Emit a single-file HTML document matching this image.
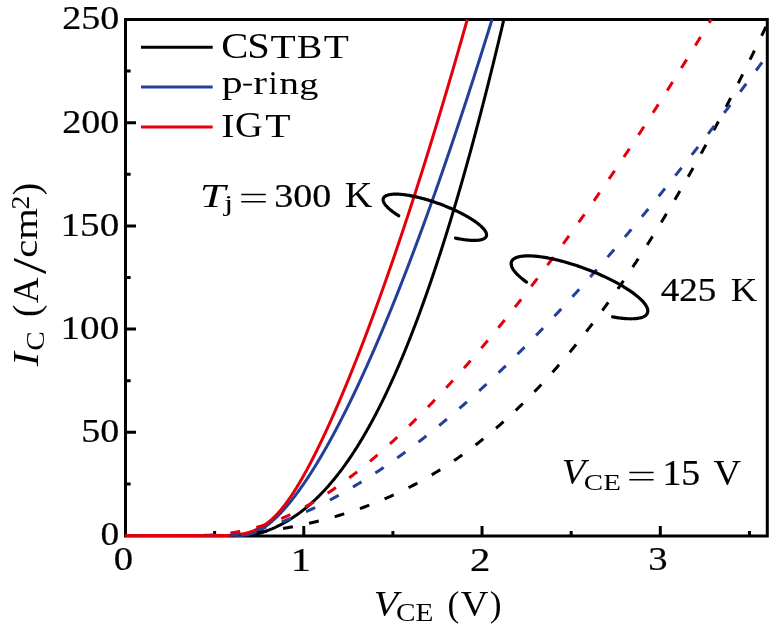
<!DOCTYPE html>
<html><head><meta charset="utf-8"><style>html,body{margin:0;padding:0;background:#fff;overflow:hidden}svg{display:block}</style></head>
<body><svg width="769" height="629" viewBox="0 0 769 629">
<rect x="0" y="0" width="769" height="629" fill="#fff"/>
<path d="M125.5,19.4 H767.3 V536 H125.5 Z" fill="none" stroke="#000" stroke-width="3" stroke-linejoin="miter"/><path d="M125.5,535.50 H136 M125.5,432.30 H136 M125.5,329.10 H136 M125.5,225.90 H136 M125.5,122.70 H136 M125.5,19.50 H136 M125.5,483.90 H130.6 M125.5,380.70 H130.6 M125.5,277.50 H130.6 M125.5,174.30 H130.6 M125.5,71.10 H130.6 M125.50,536 V526 M303.77,536 V526 M482.04,536 V526 M660.31,536 V526 M214.63,536 V531 M392.91,536 V531 M571.17,536 V531 M749.45,536 V531" stroke="#000" stroke-width="3" fill="none"/>
<path d="M125.50,535.50 L245.83,535.50 L247.84,535.43 L248.72,535.36 L249.42,535.29 L250.02,535.22 L250.56,535.15 L251.06,535.08 L251.52,535.01 L251.96,534.94 L252.38,534.87 L252.78,534.80 L253.16,534.73 L253.53,534.66 L253.89,534.59 L254.24,534.52 L254.57,534.45 L254.90,534.38 L255.23,534.31 L255.54,534.24 L255.85,534.17 L256.15,534.10 L256.45,534.03 L256.74,533.96 L257.02,533.89 L257.30,533.82 L257.58,533.75 L257.85,533.68 L258.12,533.61 L258.39,533.54 L258.65,533.47 L258.91,533.40 L259.16,533.33 L259.42,533.26 L259.67,533.19 L259.91,533.12 L260.16,533.05 L260.40,532.98 L260.64,532.91 L260.87,532.84 L261.11,532.77 L261.34,532.70 L261.57,532.63 L261.79,532.56 L262.02,532.49 L262.24,532.42 L262.47,532.35 L262.68,532.28 L262.90,532.21 L263.12,532.14 L263.33,532.07 L263.55,532.00 L263.76,531.93 L263.97,531.86 L264.18,531.79 L264.38,531.72 L264.59,531.65 L264.79,531.58 L264.99,531.51 L265.20,531.44 L265.40,531.37 L265.69,531.27 L269.25,529.93 L272.49,528.60 L275.48,527.27 L278.27,525.93 L280.90,524.60 L283.39,523.26 L285.76,521.93 L288.02,520.59 L290.19,519.26 L292.27,517.93 L294.28,516.59 L296.22,515.26 L298.09,513.92 L299.91,512.59 L301.67,511.25 L303.39,509.92 L305.05,508.58 L306.68,507.25 L308.26,505.92 L309.81,504.58 L311.32,503.25 L312.79,501.91 L314.24,500.58 L315.65,499.24 L317.04,497.91 L318.39,496.58 L319.73,495.24 L321.03,493.91 L322.32,492.57 L323.58,491.24 L324.82,489.90 L326.04,488.57 L327.25,487.23 L328.43,485.90 L329.59,484.57 L330.74,483.23 L331.87,481.90 L332.98,480.56 L334.08,479.23 L335.17,477.89 L336.24,476.56 L337.29,475.23 L338.33,473.89 L339.36,472.56 L340.38,471.22 L341.38,469.89 L342.38,468.55 L343.36,467.22 L344.33,465.89 L345.29,464.55 L346.24,463.22 L347.17,461.88 L348.10,460.55 L349.02,459.21 L349.93,457.88 L350.83,456.54 L351.72,455.21 L352.61,453.88 L353.48,452.54 L354.35,451.21 L355.21,449.87 L356.06,448.54 L356.90,447.20 L357.74,445.87 L358.57,444.54 L359.39,443.20 L360.20,441.87 L361.01,440.53 L361.81,439.20 L362.61,437.86 L363.40,436.53 L364.18,435.20 L364.95,433.86 L365.72,432.53 L366.49,431.19 L367.25,429.86 L368.00,428.52 L368.75,427.19 L369.49,425.85 L370.23,424.52 L370.96,423.19 L371.69,421.85 L372.41,420.52 L373.13,419.18 L373.84,417.85 L374.55,416.51 L375.25,415.18 L375.95,413.85 L376.64,412.51 L377.33,411.18 L378.02,409.84 L378.70,408.51 L379.38,407.17 L380.05,405.84 L380.72,404.50 L381.38,403.17 L382.04,401.84 L382.70,400.50 L383.35,399.17 L384.00,397.83 L384.65,396.50 L385.29,395.16 L385.93,393.83 L386.57,392.50 L387.20,391.16 L387.83,389.83 L388.45,388.49 L389.08,387.16 L389.70,385.82 L390.31,384.49 L390.93,383.16 L391.53,381.82 L392.14,380.49 L392.74,379.15 L393.35,377.82 L393.94,376.48 L394.54,375.15 L395.13,373.81 L395.72,372.48 L396.31,371.15 L396.89,369.81 L397.47,368.48 L398.05,367.14 L398.63,365.81 L399.20,364.47 L399.77,363.14 L400.34,361.81 L400.90,360.47 L401.47,359.14 L402.03,357.80 L402.59,356.47 L403.14,355.13 L403.70,353.80 L404.25,352.46 L404.80,351.13 L405.34,349.80 L405.89,348.46 L406.43,347.13 L406.97,345.79 L407.51,344.46 L408.04,343.12 L408.58,341.79 L409.11,340.46 L409.64,339.12 L410.17,337.79 L410.69,336.45 L411.22,335.12 L411.74,333.78 L412.26,332.45 L412.77,331.12 L413.29,329.78 L413.80,328.45 L414.32,327.11 L414.83,325.78 L415.34,324.44 L415.84,323.11 L416.35,321.77 L416.85,320.44 L417.35,319.11 L417.85,317.77 L418.35,316.44 L418.85,315.10 L419.34,313.77 L419.83,312.43 L420.32,311.10 L420.81,309.77 L421.30,308.43 L421.79,307.10 L422.27,305.76 L422.76,304.43 L423.24,303.09 L423.72,301.76 L424.20,300.42 L424.67,299.09 L425.15,297.76 L425.62,296.42 L426.10,295.09 L426.57,293.75 L427.04,292.42 L427.50,291.08 L427.97,289.75 L428.44,288.42 L428.90,287.08 L429.36,285.75 L429.83,284.41 L430.28,283.08 L430.74,281.74 L431.20,280.41 L431.66,279.08 L432.11,277.74 L432.56,276.41 L433.02,275.07 L433.47,273.74 L433.92,272.40 L434.37,271.07 L434.81,269.73 L435.26,268.40 L435.70,267.07 L436.15,265.73 L436.59,264.40 L437.03,263.06 L437.47,261.73 L437.91,260.39 L438.34,259.06 L438.78,257.73 L439.22,256.39 L439.65,255.06 L440.08,253.72 L440.51,252.39 L440.94,251.05 L441.37,249.72 L441.80,248.38 L442.23,247.05 L442.66,245.72 L443.08,244.38 L443.51,243.05 L443.93,241.71 L444.35,240.38 L444.77,239.04 L445.19,237.71 L445.61,236.38 L446.03,235.04 L446.44,233.71 L446.86,232.37 L447.28,231.04 L447.69,229.70 L448.10,228.37 L448.51,227.04 L448.93,225.70 L449.34,224.37 L449.74,223.03 L450.15,221.70 L450.56,220.36 L450.97,219.03 L451.37,217.69 L451.78,216.36 L452.18,215.03 L452.58,213.69 L452.98,212.36 L453.38,211.02 L453.78,209.69 L454.18,208.35 L454.58,207.02 L454.98,205.69 L455.37,204.35 L455.77,203.02 L456.16,201.68 L456.56,200.35 L456.95,199.01 L457.34,197.68 L457.73,196.34 L458.13,195.01 L458.51,193.68 L458.90,192.34 L459.29,191.01 L459.68,189.67 L460.07,188.34 L460.45,187.00 L460.84,185.67 L461.22,184.34 L461.60,183.00 L461.99,181.67 L462.37,180.33 L462.75,179.00 L463.13,177.66 L463.51,176.33 L463.89,175.00 L464.26,173.66 L464.64,172.33 L465.02,170.99 L465.39,169.66 L465.77,168.32 L466.14,166.99 L466.52,165.65 L466.89,164.32 L467.26,162.99 L467.63,161.65 L468.00,160.32 L468.37,158.98 L468.74,157.65 L469.11,156.31 L469.48,154.98 L469.85,153.65 L470.21,152.31 L470.58,150.98 L470.94,149.64 L471.31,148.31 L471.67,146.97 L472.04,145.64 L472.40,144.31 L472.76,142.97 L473.12,141.64 L473.48,140.30 L473.84,138.97 L474.20,137.63 L474.56,136.30 L474.92,134.96 L475.28,133.63 L475.63,132.30 L475.99,130.96 L476.35,129.63 L476.70,128.29 L477.05,126.96 L477.41,125.62 L477.76,124.29 L478.11,122.96 L478.47,121.62 L478.82,120.29 L479.17,118.95 L479.52,117.62 L479.87,116.28 L480.22,114.95 L480.57,113.61 L480.91,112.28 L481.26,110.95 L481.61,109.61 L481.95,108.28 L482.30,106.94 L482.64,105.61 L482.99,104.27 L483.33,102.94 L483.68,101.61 L484.02,100.27 L484.36,98.94 L484.70,97.60 L485.04,96.27 L485.38,94.93 L485.72,93.60 L486.06,92.27 L486.40,90.93 L486.74,89.60 L487.08,88.26 L487.42,86.93 L487.75,85.59 L488.09,84.26 L488.43,82.92 L488.76,81.59 L489.10,80.26 L489.43,78.92 L489.77,77.59 L490.10,76.25 L490.43,74.92 L490.76,73.58 L491.10,72.25 L491.43,70.92 L491.76,69.58 L492.09,68.25 L492.42,66.91 L492.75,65.58 L493.08,64.24 L493.41,62.91 L493.73,61.57 L494.06,60.24 L494.39,58.91 L494.71,57.57 L495.04,56.24 L495.37,54.90 L495.69,53.57 L496.02,52.23 L496.34,50.90 L496.66,49.57 L496.99,48.23 L497.31,46.90 L497.63,45.56 L497.95,44.23 L498.28,42.89 L498.60,41.56 L498.92,40.23 L499.24,38.89 L499.56,37.56 L499.88,36.22 L500.20,34.89 L500.51,33.55 L500.83,32.22 L501.15,30.88 L501.47,29.55 L501.78,28.22 L502.10,26.88 L502.42,25.55 L502.73,24.21 L503.05,22.88 L503.36,21.54 L503.68,20.21 L503.84,19.50" fill="none" stroke="#000" stroke-width="3" stroke-linejoin="round"/><path d="M125.50,535.50 L237.95,535.50 L240.68,535.43 L241.79,535.36 L242.63,535.29 L243.33,535.22 L243.94,535.15 L244.49,535.08 L244.99,535.01 L245.46,534.94 L245.89,534.87 L246.30,534.80 L246.69,534.73 L247.06,534.66 L247.41,534.59 L247.75,534.52 L248.07,534.45 L248.39,534.38 L248.69,534.31 L248.98,534.24 L249.26,534.17 L249.54,534.10 L249.81,534.03 L250.07,533.96 L250.32,533.89 L250.57,533.82 L250.81,533.75 L251.05,533.68 L251.28,533.61 L251.51,533.54 L251.73,533.47 L251.95,533.40 L252.17,533.33 L252.38,533.26 L252.59,533.19 L252.79,533.12 L252.99,533.05 L253.19,532.98 L253.38,532.91 L253.58,532.84 L253.76,532.77 L253.95,532.70 L254.13,532.63 L254.32,532.56 L254.49,532.49 L254.67,532.42 L254.85,532.35 L255.02,532.28 L255.19,532.21 L255.36,532.14 L255.52,532.07 L255.69,532.00 L255.85,531.93 L256.01,531.86 L256.17,531.79 L256.33,531.72 L256.48,531.65 L256.64,531.58 L256.79,531.51 L256.94,531.44 L257.09,531.37 L257.31,531.27 L259.92,529.93 L262.22,528.60 L264.30,527.27 L266.22,525.93 L268.01,524.60 L269.70,523.26 L271.31,521.93 L272.85,520.59 L274.32,519.26 L275.75,517.93 L277.13,516.59 L278.47,515.26 L279.77,513.92 L281.04,512.59 L282.28,511.25 L283.50,509.92 L284.68,508.58 L285.85,507.25 L286.99,505.92 L288.11,504.58 L289.22,503.25 L290.30,501.91 L291.37,500.58 L292.43,499.24 L293.47,497.91 L294.49,496.58 L295.50,495.24 L296.50,493.91 L297.49,492.57 L298.47,491.24 L299.43,489.90 L300.39,488.57 L301.33,487.23 L302.27,485.90 L303.20,484.57 L304.11,483.23 L305.02,481.90 L305.92,480.56 L306.81,479.23 L307.70,477.89 L308.57,476.56 L309.44,475.23 L310.31,473.89 L311.16,472.56 L312.01,471.22 L312.86,469.89 L313.69,468.55 L314.52,467.22 L315.35,465.89 L316.17,464.55 L316.98,463.22 L317.79,461.88 L318.59,460.55 L319.39,459.21 L320.18,457.88 L320.97,456.54 L321.75,455.21 L322.53,453.88 L323.31,452.54 L324.07,451.21 L324.84,449.87 L325.60,448.54 L326.36,447.20 L327.11,445.87 L327.86,444.54 L328.60,443.20 L329.34,441.87 L330.08,440.53 L330.81,439.20 L331.54,437.86 L332.27,436.53 L332.99,435.20 L333.71,433.86 L334.43,432.53 L335.14,431.19 L335.85,429.86 L336.56,428.52 L337.26,427.19 L337.96,425.85 L338.66,424.52 L339.35,423.19 L340.04,421.85 L340.73,420.52 L341.42,419.18 L342.10,417.85 L342.78,416.51 L343.46,415.18 L344.13,413.85 L344.80,412.51 L345.47,411.18 L346.14,409.84 L346.81,408.51 L347.47,407.17 L348.13,405.84 L348.78,404.50 L349.44,403.17 L350.09,401.84 L350.74,400.50 L351.39,399.17 L352.04,397.83 L352.68,396.50 L353.32,395.16 L353.96,393.83 L354.60,392.50 L355.23,391.16 L355.87,389.83 L356.50,388.49 L357.13,387.16 L357.75,385.82 L358.38,384.49 L359.00,383.16 L359.62,381.82 L360.24,380.49 L360.86,379.15 L361.48,377.82 L362.09,376.48 L362.70,375.15 L363.31,373.81 L363.92,372.48 L364.53,371.15 L365.13,369.81 L365.74,368.48 L366.34,367.14 L366.94,365.81 L367.54,364.47 L368.13,363.14 L368.73,361.81 L369.32,360.47 L369.91,359.14 L370.51,357.80 L371.09,356.47 L371.68,355.13 L372.27,353.80 L372.85,352.46 L373.44,351.13 L374.02,349.80 L374.60,348.46 L375.18,347.13 L375.75,345.79 L376.33,344.46 L376.90,343.12 L377.48,341.79 L378.05,340.46 L378.62,339.12 L379.19,337.79 L379.75,336.45 L380.32,335.12 L380.89,333.78 L381.45,332.45 L382.01,331.12 L382.57,329.78 L383.13,328.45 L383.69,327.11 L384.25,325.78 L384.81,324.44 L385.36,323.11 L385.92,321.77 L386.47,320.44 L387.02,319.11 L387.57,317.77 L388.12,316.44 L388.67,315.10 L389.21,313.77 L389.76,312.43 L390.30,311.10 L390.85,309.77 L391.39,308.43 L391.93,307.10 L392.47,305.76 L393.01,304.43 L393.55,303.09 L394.09,301.76 L394.62,300.42 L395.16,299.09 L395.69,297.76 L396.23,296.42 L396.76,295.09 L397.29,293.75 L397.82,292.42 L398.35,291.08 L398.87,289.75 L399.40,288.42 L399.93,287.08 L400.45,285.75 L400.98,284.41 L401.50,283.08 L402.02,281.74 L402.54,280.41 L403.06,279.08 L403.58,277.74 L404.10,276.41 L404.62,275.07 L405.14,273.74 L405.65,272.40 L406.17,271.07 L406.68,269.73 L407.19,268.40 L407.71,267.07 L408.22,265.73 L408.73,264.40 L409.24,263.06 L409.75,261.73 L410.25,260.39 L410.76,259.06 L411.27,257.73 L411.77,256.39 L412.28,255.06 L412.78,253.72 L413.29,252.39 L413.79,251.05 L414.29,249.72 L414.79,248.38 L415.29,247.05 L415.79,245.72 L416.29,244.38 L416.79,243.05 L417.28,241.71 L417.78,240.38 L418.27,239.04 L418.77,237.71 L419.26,236.38 L419.76,235.04 L420.25,233.71 L420.74,232.37 L421.23,231.04 L421.72,229.70 L422.21,228.37 L422.70,227.04 L423.19,225.70 L423.67,224.37 L424.16,223.03 L424.65,221.70 L425.13,220.36 L425.62,219.03 L426.10,217.69 L426.58,216.36 L427.07,215.03 L427.55,213.69 L428.03,212.36 L428.51,211.02 L428.99,209.69 L429.47,208.35 L429.95,207.02 L430.42,205.69 L430.90,204.35 L431.38,203.02 L431.85,201.68 L432.33,200.35 L432.80,199.01 L433.28,197.68 L433.75,196.34 L434.23,195.01 L434.70,193.68 L435.17,192.34 L435.64,191.01 L436.11,189.67 L436.58,188.34 L437.05,187.00 L437.52,185.67 L437.99,184.34 L438.45,183.00 L438.92,181.67 L439.39,180.33 L439.85,179.00 L440.32,177.66 L440.78,176.33 L441.24,175.00 L441.71,173.66 L442.17,172.33 L442.63,170.99 L443.09,169.66 L443.56,168.32 L444.02,166.99 L444.48,165.65 L444.94,164.32 L445.39,162.99 L445.85,161.65 L446.31,160.32 L446.77,158.98 L447.22,157.65 L447.68,156.31 L448.14,154.98 L448.59,153.65 L449.05,152.31 L449.50,150.98 L449.95,149.64 L450.41,148.31 L450.86,146.97 L451.31,145.64 L451.76,144.31 L452.21,142.97 L452.66,141.64 L453.11,140.30 L453.56,138.97 L454.01,137.63 L454.46,136.30 L454.91,134.96 L455.36,133.63 L455.80,132.30 L456.25,130.96 L456.70,129.63 L457.14,128.29 L457.59,126.96 L458.03,125.62 L458.48,124.29 L458.92,122.96 L459.36,121.62 L459.81,120.29 L460.25,118.95 L460.69,117.62 L461.13,116.28 L461.57,114.95 L462.01,113.61 L462.45,112.28 L462.89,110.95 L463.33,109.61 L463.77,108.28 L464.21,106.94 L464.65,105.61 L465.08,104.27 L465.52,102.94 L465.96,101.61 L466.39,100.27 L466.83,98.94 L467.26,97.60 L467.70,96.27 L468.13,94.93 L468.57,93.60 L469.00,92.27 L469.43,90.93 L469.86,89.60 L470.30,88.26 L470.73,86.93 L471.16,85.59 L471.59,84.26 L472.02,82.92 L472.45,81.59 L472.88,80.26 L473.31,78.92 L473.74,77.59 L474.17,76.25 L474.59,74.92 L475.02,73.58 L475.45,72.25 L475.88,70.92 L476.30,69.58 L476.73,68.25 L477.15,66.91 L477.58,65.58 L478.00,64.24 L478.43,62.91 L478.85,61.57 L479.28,60.24 L479.70,58.91 L480.12,57.57 L480.54,56.24 L480.97,54.90 L481.39,53.57 L481.81,52.23 L482.23,50.90 L482.65,49.57 L483.07,48.23 L483.49,46.90 L483.91,45.56 L484.33,44.23 L484.75,42.89 L485.17,41.56 L485.58,40.23 L486.00,38.89 L486.42,37.56 L486.84,36.22 L487.25,34.89 L487.67,33.55 L488.09,32.22 L488.50,30.88 L488.92,29.55 L489.33,28.22 L489.75,26.88 L490.16,25.55 L490.57,24.21 L490.99,22.88 L491.40,21.54 L491.81,20.21 L492.03,19.50" fill="none" stroke="#22409a" stroke-width="3" stroke-linejoin="round"/><path d="M125.50,535.50 L225.28,535.50 L229.26,535.43 L230.86,535.36 L232.07,535.29 L233.08,535.22 L233.96,535.15 L234.75,535.08 L235.47,535.01 L236.13,534.94 L236.75,534.87 L237.33,534.80 L237.88,534.73 L238.40,534.66 L238.90,534.59 L239.37,534.52 L239.83,534.45 L240.27,534.38 L240.69,534.31 L241.10,534.24 L241.50,534.17 L241.88,534.10 L242.25,534.03 L242.61,533.96 L242.96,533.89 L243.31,533.82 L243.64,533.75 L243.97,533.68 L244.29,533.61 L244.60,533.54 L244.90,533.47 L245.20,533.40 L245.50,533.33 L245.78,533.26 L246.06,533.19 L246.34,533.12 L246.61,533.05 L246.88,532.98 L247.14,532.91 L247.40,532.84 L247.65,532.77 L247.90,532.70 L248.14,532.63 L248.39,532.56 L248.62,532.49 L248.86,532.42 L249.09,532.35 L249.32,532.28 L249.54,532.21 L249.76,532.14 L249.98,532.07 L250.20,532.00 L250.41,531.93 L250.62,531.86 L250.83,531.79 L251.04,531.72 L251.24,531.65 L251.44,531.58 L251.64,531.51 L251.83,531.44 L252.03,531.37 L252.31,531.27 L255.61,529.93 L258.42,528.60 L260.89,527.27 L263.10,525.93 L265.11,524.60 L266.97,523.26 L268.70,521.93 L270.31,520.59 L271.84,519.26 L273.29,517.93 L274.67,516.59 L275.99,515.26 L277.26,513.92 L278.48,512.59 L279.67,511.25 L280.81,509.92 L281.92,508.58 L283.00,507.25 L284.05,505.92 L285.08,504.58 L286.09,503.25 L287.07,501.91 L288.03,500.58 L288.98,499.24 L289.90,497.91 L290.81,496.58 L291.71,495.24 L292.59,493.91 L293.46,492.57 L294.32,491.24 L295.16,489.90 L296.00,488.57 L296.82,487.23 L297.64,485.90 L298.44,484.57 L299.24,483.23 L300.02,481.90 L300.80,480.56 L301.58,479.23 L302.34,477.89 L303.10,476.56 L303.85,475.23 L304.59,473.89 L305.33,472.56 L306.06,471.22 L306.79,469.89 L307.51,468.55 L308.22,467.22 L308.93,465.89 L309.64,464.55 L310.34,463.22 L311.03,461.88 L311.73,460.55 L312.41,459.21 L313.10,457.88 L313.77,456.54 L314.45,455.21 L315.12,453.88 L315.79,452.54 L316.45,451.21 L317.11,449.87 L317.77,448.54 L318.42,447.20 L319.07,445.87 L319.72,444.54 L320.36,443.20 L321.00,441.87 L321.64,440.53 L322.27,439.20 L322.90,437.86 L323.53,436.53 L324.16,435.20 L324.78,433.86 L325.40,432.53 L326.02,431.19 L326.64,429.86 L327.25,428.52 L327.86,427.19 L328.47,425.85 L329.07,424.52 L329.68,423.19 L330.28,421.85 L330.88,420.52 L331.48,419.18 L332.07,417.85 L332.67,416.51 L333.26,415.18 L333.85,413.85 L334.43,412.51 L335.02,411.18 L335.60,409.84 L336.18,408.51 L336.76,407.17 L337.34,405.84 L337.91,404.50 L338.49,403.17 L339.06,401.84 L339.63,400.50 L340.20,399.17 L340.77,397.83 L341.33,396.50 L341.90,395.16 L342.46,393.83 L343.02,392.50 L343.58,391.16 L344.13,389.83 L344.69,388.49 L345.25,387.16 L345.80,385.82 L346.35,384.49 L346.90,383.16 L347.45,381.82 L347.99,380.49 L348.54,379.15 L349.08,377.82 L349.63,376.48 L350.17,375.15 L350.71,373.81 L351.25,372.48 L351.79,371.15 L352.32,369.81 L352.86,368.48 L353.39,367.14 L353.92,365.81 L354.45,364.47 L354.98,363.14 L355.51,361.81 L356.04,360.47 L356.57,359.14 L357.09,357.80 L357.61,356.47 L358.14,355.13 L358.66,353.80 L359.18,352.46 L359.70,351.13 L360.22,349.80 L360.73,348.46 L361.25,347.13 L361.76,345.79 L362.28,344.46 L362.79,343.12 L363.30,341.79 L363.81,340.46 L364.32,339.12 L364.83,337.79 L365.34,336.45 L365.84,335.12 L366.35,333.78 L366.85,332.45 L367.36,331.12 L367.86,329.78 L368.36,328.45 L368.86,327.11 L369.36,325.78 L369.86,324.44 L370.36,323.11 L370.85,321.77 L371.35,320.44 L371.84,319.11 L372.34,317.77 L372.83,316.44 L373.32,315.10 L373.81,313.77 L374.30,312.43 L374.79,311.10 L375.28,309.77 L375.77,308.43 L376.26,307.10 L376.74,305.76 L377.23,304.43 L377.71,303.09 L378.20,301.76 L378.68,300.42 L379.16,299.09 L379.64,297.76 L380.12,296.42 L380.60,295.09 L381.08,293.75 L381.56,292.42 L382.03,291.08 L382.51,289.75 L382.98,288.42 L383.46,287.08 L383.93,285.75 L384.41,284.41 L384.88,283.08 L385.35,281.74 L385.82,280.41 L386.29,279.08 L386.76,277.74 L387.23,276.41 L387.70,275.07 L388.16,273.74 L388.63,272.40 L389.09,271.07 L389.56,269.73 L390.02,268.40 L390.49,267.07 L390.95,265.73 L391.41,264.40 L391.87,263.06 L392.33,261.73 L392.79,260.39 L393.25,259.06 L393.71,257.73 L394.17,256.39 L394.63,255.06 L395.08,253.72 L395.54,252.39 L395.99,251.05 L396.45,249.72 L396.90,248.38 L397.35,247.05 L397.81,245.72 L398.26,244.38 L398.71,243.05 L399.16,241.71 L399.61,240.38 L400.06,239.04 L400.51,237.71 L400.96,236.38 L401.40,235.04 L401.85,233.71 L402.30,232.37 L402.74,231.04 L403.19,229.70 L403.63,228.37 L404.08,227.04 L404.52,225.70 L404.96,224.37 L405.40,223.03 L405.85,221.70 L406.29,220.36 L406.73,219.03 L407.17,217.69 L407.61,216.36 L408.04,215.03 L408.48,213.69 L408.92,212.36 L409.36,211.02 L409.79,209.69 L410.23,208.35 L410.66,207.02 L411.10,205.69 L411.53,204.35 L411.97,203.02 L412.40,201.68 L412.83,200.35 L413.26,199.01 L413.69,197.68 L414.13,196.34 L414.56,195.01 L414.99,193.68 L415.41,192.34 L415.84,191.01 L416.27,189.67 L416.70,188.34 L417.13,187.00 L417.55,185.67 L417.98,184.34 L418.40,183.00 L418.83,181.67 L419.25,180.33 L419.68,179.00 L420.10,177.66 L420.52,176.33 L420.95,175.00 L421.37,173.66 L421.79,172.33 L422.21,170.99 L422.63,169.66 L423.05,168.32 L423.47,166.99 L423.89,165.65 L424.31,164.32 L424.73,162.99 L425.15,161.65 L425.56,160.32 L425.98,158.98 L426.40,157.65 L426.81,156.31 L427.23,154.98 L427.64,153.65 L428.06,152.31 L428.47,150.98 L428.88,149.64 L429.30,148.31 L429.71,146.97 L430.12,145.64 L430.53,144.31 L430.94,142.97 L431.35,141.64 L431.77,140.30 L432.17,138.97 L432.58,137.63 L432.99,136.30 L433.40,134.96 L433.81,133.63 L434.22,132.30 L434.62,130.96 L435.03,129.63 L435.44,128.29 L435.84,126.96 L436.25,125.62 L436.65,124.29 L437.06,122.96 L437.46,121.62 L437.87,120.29 L438.27,118.95 L438.67,117.62 L439.08,116.28 L439.48,114.95 L439.88,113.61 L440.28,112.28 L440.68,110.95 L441.08,109.61 L441.48,108.28 L441.88,106.94 L442.28,105.61 L442.68,104.27 L443.08,102.94 L443.48,101.61 L443.88,100.27 L444.27,98.94 L444.67,97.60 L445.07,96.27 L445.46,94.93 L445.86,93.60 L446.25,92.27 L446.65,90.93 L447.04,89.60 L447.44,88.26 L447.83,86.93 L448.22,85.59 L448.62,84.26 L449.01,82.92 L449.40,81.59 L449.79,80.26 L450.19,78.92 L450.58,77.59 L450.97,76.25 L451.36,74.92 L451.75,73.58 L452.14,72.25 L452.53,70.92 L452.92,69.58 L453.30,68.25 L453.69,66.91 L454.08,65.58 L454.47,64.24 L454.85,62.91 L455.24,61.57 L455.63,60.24 L456.01,58.91 L456.40,57.57 L456.78,56.24 L457.17,54.90 L457.55,53.57 L457.94,52.23 L458.32,50.90 L458.71,49.57 L459.09,48.23 L459.47,46.90 L459.85,45.56 L460.24,44.23 L460.62,42.89 L461.00,41.56 L461.38,40.23 L461.76,38.89 L462.14,37.56 L462.52,36.22 L462.90,34.89 L463.28,33.55 L463.66,32.22 L464.04,30.88 L464.42,29.55 L464.80,28.22 L465.17,26.88 L465.55,25.55 L465.93,24.21 L466.31,22.88 L466.68,21.54 L467.06,20.21 L467.26,19.50" fill="none" stroke="#e4000b" stroke-width="3" stroke-linejoin="round"/>
<path d="M125.50,535.50 L224.50,535.50 L227.35,535.43 L228.79,535.36 L229.99,535.29 L231.07,535.22 L232.08,535.15 L233.02,535.08 L233.92,535.01 L234.79,534.94 L235.62,534.87 L236.43,534.80 L237.22,534.73 L237.99,534.66 L238.75,534.59 L239.49,534.52 L240.21,534.45 L240.92,534.38 L241.62,534.31 L242.31,534.24 L242.99,534.17 L243.66,534.10 L244.32,534.03 L244.97,533.96 L245.62,533.89 L246.25,533.82 L246.88,533.75 L247.51,533.68 L248.12,533.61 L248.73,533.54 L249.33,533.47 L249.93,533.40 L250.52,533.33 L251.11,533.26 L251.69,533.19 L252.27,533.12 L252.84,533.05 L253.41,532.98 L253.97,532.91 L254.53,532.84 L255.08,532.77 L255.63,532.70 L256.17,532.63 L256.71,532.56 L257.25,532.49 L257.78,532.42 L258.31,532.35 L258.84,532.28 L259.36,532.21 L259.88,532.14 L260.39,532.07 L260.90,532.00 L261.41,531.93 L261.92,531.86 L262.42,531.79 L262.92,531.72 L263.41,531.65 L263.91,531.58 L264.40,531.51 L264.88,531.44 L265.37,531.37 L266.08,531.27 L274.75,529.93 L282.67,528.60 L289.97,527.27 L296.77,525.93 L303.15,524.60 L309.16,523.26 L314.85,521.93 L320.25,520.59 L325.41,519.26 L330.33,517.93 L335.06,516.59 L339.59,515.26 L343.96,513.92 L348.17,512.59 L352.24,511.25 L356.18,509.92 L360.00,508.58 L363.70,507.25 L367.30,505.92 L370.80,504.58 L374.20,503.25 L377.52,501.91 L380.76,500.58 L383.92,499.24 L387.01,497.91 L390.02,496.58 L392.98,495.24 L395.87,493.91 L398.70,492.57 L401.47,491.24 L404.19,489.90 L406.87,488.57 L409.49,487.23 L412.06,485.90 L414.59,484.57 L417.08,483.23 L419.53,481.90 L421.94,480.56 L424.31,479.23 L426.64,477.89 L428.94,476.56 L431.20,475.23 L433.44,473.89 L435.64,472.56 L437.81,471.22 L439.95,469.89 L442.06,468.55 L444.15,467.22 L446.21,465.89 L448.24,464.55 L450.25,463.22 L452.24,461.88 L454.20,460.55 L456.14,459.21 L458.05,457.88 L459.95,456.54 L461.82,455.21 L463.68,453.88 L465.51,452.54 L467.33,451.21 L469.13,449.87 L470.91,448.54 L472.67,447.20 L474.41,445.87 L476.14,444.54 L477.85,443.20 L479.55,441.87 L481.23,440.53 L482.89,439.20 L484.54,437.86 L486.18,436.53 L487.80,435.20 L489.41,433.86 L491.00,432.53 L492.58,431.19 L494.15,429.86 L495.71,428.52 L497.25,427.19 L498.78,425.85 L500.30,424.52 L501.81,423.19 L503.31,421.85 L504.79,420.52 L506.26,419.18 L507.73,417.85 L509.18,416.51 L510.62,415.18 L512.06,413.85 L513.48,412.51 L514.89,411.18 L516.30,409.84 L517.69,408.51 L519.08,407.17 L520.45,405.84 L521.82,404.50 L523.18,403.17 L524.53,401.84 L525.87,400.50 L527.20,399.17 L528.53,397.83 L529.84,396.50 L531.15,395.16 L532.46,393.83 L533.75,392.50 L535.04,391.16 L536.31,389.83 L537.59,388.49 L538.85,387.16 L540.11,385.82 L541.36,384.49 L542.60,383.16 L543.84,381.82 L545.07,380.49 L546.30,379.15 L547.52,377.82 L548.73,376.48 L549.93,375.15 L551.13,373.81 L552.32,372.48 L553.51,371.15 L554.69,369.81 L555.87,368.48 L557.04,367.14 L558.20,365.81 L559.36,364.47 L560.52,363.14 L561.66,361.81 L562.81,360.47 L563.94,359.14 L565.08,357.80 L566.20,356.47 L567.33,355.13 L568.44,353.80 L569.56,352.46 L570.66,351.13 L571.77,349.80 L572.86,348.46 L573.96,347.13 L575.05,345.79 L576.13,344.46 L577.21,343.12 L578.28,341.79 L579.35,340.46 L580.42,339.12 L581.48,337.79 L582.54,336.45 L583.60,335.12 L584.64,333.78 L585.69,332.45 L586.73,331.12 L587.77,329.78 L588.80,328.45 L589.83,327.11 L590.86,325.78 L591.88,324.44 L592.90,323.11 L593.91,321.77 L594.92,320.44 L595.93,319.11 L596.93,317.77 L597.93,316.44 L598.93,315.10 L599.92,313.77 L600.91,312.43 L601.90,311.10 L602.88,309.77 L603.86,308.43 L604.84,307.10 L605.81,305.76 L606.78,304.43 L607.74,303.09 L608.71,301.76 L609.67,300.42 L610.62,299.09 L611.58,297.76 L612.53,296.42 L613.48,295.09 L614.42,293.75 L615.36,292.42 L616.30,291.08 L617.24,289.75 L618.17,288.42 L619.10,287.08 L620.03,285.75 L620.95,284.41 L621.87,283.08 L622.79,281.74 L623.71,280.41 L624.62,279.08 L625.53,277.74 L626.44,276.41 L627.34,275.07 L628.25,273.74 L629.15,272.40 L630.04,271.07 L630.94,269.73 L631.83,268.40 L632.72,267.07 L633.61,265.73 L634.49,264.40 L635.38,263.06 L636.26,261.73 L637.14,260.39 L638.01,259.06 L638.88,257.73 L639.76,256.39 L640.62,255.06 L641.49,253.72 L642.35,252.39 L643.22,251.05 L644.08,249.72 L644.93,248.38 L645.79,247.05 L646.64,245.72 L647.49,244.38 L648.34,243.05 L649.19,241.71 L650.03,240.38 L650.87,239.04 L651.71,237.71 L652.55,236.38 L653.39,235.04 L654.22,233.71 L655.06,232.37 L655.89,231.04 L656.71,229.70 L657.54,228.37 L658.36,227.04 L659.19,225.70 L660.01,224.37 L660.83,223.03 L661.64,221.70 L662.46,220.36 L663.27,219.03 L664.08,217.69 L664.89,216.36 L665.70,215.03 L666.50,213.69 L667.31,212.36 L668.11,211.02 L668.91,209.69 L669.71,208.35 L670.51,207.02 L671.30,205.69 L672.09,204.35 L672.89,203.02 L673.68,201.68 L674.46,200.35 L675.25,199.01 L676.04,197.68 L676.82,196.34 L677.60,195.01 L678.38,193.68 L679.16,192.34 L679.94,191.01 L680.71,189.67 L681.48,188.34 L682.26,187.00 L683.03,185.67 L683.80,184.34 L684.56,183.00 L685.33,181.67 L686.09,180.33 L686.86,179.00 L687.62,177.66 L688.38,176.33 L689.14,175.00 L689.89,173.66 L690.65,172.33 L691.40,170.99 L692.16,169.66 L692.91,168.32 L693.66,166.99 L694.40,165.65 L695.15,164.32 L695.90,162.99 L696.64,161.65 L697.38,160.32 L698.13,158.98 L698.87,157.65 L699.60,156.31 L700.34,154.98 L701.08,153.65 L701.81,152.31 L702.55,150.98 L703.28,149.64 L704.01,148.31 L704.74,146.97 L705.47,145.64 L706.19,144.31 L706.92,142.97 L707.64,141.64 L708.37,140.30 L709.09,138.97 L709.81,137.63 L710.53,136.30 L711.25,134.96 L711.96,133.63 L712.68,132.30 L713.39,130.96 L714.11,129.63 L714.82,128.29 L715.53,126.96 L716.24,125.62 L716.95,124.29 L717.66,122.96 L718.36,121.62 L719.07,120.29 L719.77,118.95 L720.47,117.62 L721.18,116.28 L721.88,114.95 L722.58,113.61 L723.27,112.28 L723.97,110.95 L724.67,109.61 L725.36,108.28 L726.06,106.94 L726.75,105.61 L727.44,104.27 L728.13,102.94 L728.82,101.61 L729.51,100.27 L730.20,98.94 L730.88,97.60 L731.57,96.27 L732.25,94.93 L732.94,93.60 L733.62,92.27 L734.30,90.93 L734.98,89.60 L735.66,88.26 L736.34,86.93 L737.02,85.59 L737.69,84.26 L738.37,82.92 L739.04,81.59 L739.72,80.26 L740.39,78.92 L741.06,77.59 L741.73,76.25 L742.40,74.92 L743.07,73.58 L743.74,72.25 L744.40,70.92 L745.07,69.58 L745.73,68.25 L746.40,66.91 L747.06,65.58 L747.72,64.24 L748.38,62.91 L749.04,61.57 L749.70,60.24 L750.36,58.91 L751.02,57.57 L751.68,56.24 L752.33,54.90 L752.99,53.57 L753.64,52.23 L754.29,50.90 L754.94,49.57 L755.60,48.23 L756.25,46.90 L756.90,45.56 L757.54,44.23 L758.19,42.89 L758.84,41.56 L759.49,40.23 L760.13,38.89 L760.78,37.56 L761.42,36.22 L762.06,34.89 L762.70,33.55 L763.35,32.22 L763.99,30.88 L764.63,29.55 L765.26,28.22 L765.90,26.88 L766.50,25.63" fill="none" stroke="#000" stroke-width="3" stroke-dasharray="10 16.5" stroke-dashoffset="1" stroke-linejoin="round"/><path d="M125.50,535.50 L224.87,535.50 L227.72,535.43 L228.96,535.36 L229.94,535.29 L230.78,535.22 L231.54,535.15 L232.23,535.08 L232.87,535.01 L233.48,534.94 L234.06,534.87 L234.61,534.80 L235.14,534.73 L235.65,534.66 L236.14,534.59 L236.62,534.52 L237.08,534.45 L237.54,534.38 L237.98,534.31 L238.41,534.24 L238.83,534.17 L239.25,534.10 L239.65,534.03 L240.05,533.96 L240.45,533.89 L240.83,533.82 L241.21,533.75 L241.59,533.68 L241.96,533.61 L242.32,533.54 L242.68,533.47 L243.04,533.40 L243.39,533.33 L243.74,533.26 L244.08,533.19 L244.42,533.12 L244.76,533.05 L245.09,532.98 L245.42,532.91 L245.74,532.84 L246.07,532.77 L246.39,532.70 L246.70,532.63 L247.02,532.56 L247.33,532.49 L247.64,532.42 L247.95,532.35 L248.25,532.28 L248.55,532.21 L248.85,532.14 L249.15,532.07 L249.45,532.00 L249.74,531.93 L250.03,531.86 L250.32,531.79 L250.61,531.72 L250.90,531.65 L251.18,531.58 L251.46,531.51 L251.74,531.44 L252.02,531.37 L252.43,531.27 L257.44,529.93 L262.06,528.60 L266.39,527.27 L270.48,525.93 L274.39,524.60 L278.14,523.26 L281.75,521.93 L285.25,520.59 L288.64,519.26 L291.93,517.93 L295.14,516.59 L298.27,515.26 L301.33,513.92 L304.32,512.59 L307.25,511.25 L310.12,509.92 L312.94,508.58 L315.70,507.25 L318.42,505.92 L321.10,504.58 L323.73,503.25 L326.32,501.91 L328.88,500.58 L331.39,499.24 L333.87,497.91 L336.32,496.58 L338.74,495.24 L341.13,493.91 L343.49,492.57 L345.82,491.24 L348.12,489.90 L350.40,488.57 L352.65,487.23 L354.88,485.90 L357.08,484.57 L359.27,483.23 L361.43,481.90 L363.57,480.56 L365.69,479.23 L367.79,477.89 L369.87,476.56 L371.93,475.23 L373.98,473.89 L376.01,472.56 L378.02,471.22 L380.01,469.89 L381.99,468.55 L383.95,467.22 L385.90,465.89 L387.84,464.55 L389.76,463.22 L391.66,461.88 L393.55,460.55 L395.43,459.21 L397.30,457.88 L399.15,456.54 L400.99,455.21 L402.82,453.88 L404.63,452.54 L406.44,451.21 L408.23,449.87 L410.02,448.54 L411.79,447.20 L413.55,445.87 L415.30,444.54 L417.04,443.20 L418.77,441.87 L420.50,440.53 L422.21,439.20 L423.91,437.86 L425.61,436.53 L427.29,435.20 L428.97,433.86 L430.63,432.53 L432.29,431.19 L433.94,429.86 L435.59,428.52 L437.22,427.19 L438.85,425.85 L440.47,424.52 L442.08,423.19 L443.68,421.85 L445.28,420.52 L446.87,419.18 L448.45,417.85 L450.03,416.51 L451.60,415.18 L453.16,413.85 L454.72,412.51 L456.27,411.18 L457.81,409.84 L459.35,408.51 L460.88,407.17 L462.40,405.84 L463.92,404.50 L465.43,403.17 L466.94,401.84 L468.44,400.50 L469.93,399.17 L471.42,397.83 L472.91,396.50 L474.39,395.16 L475.86,393.83 L477.33,392.50 L478.79,391.16 L480.25,389.83 L481.70,388.49 L483.15,387.16 L484.59,385.82 L486.03,384.49 L487.46,383.16 L488.89,381.82 L490.32,380.49 L491.74,379.15 L493.15,377.82 L494.56,376.48 L495.97,375.15 L497.37,373.81 L498.77,372.48 L500.16,371.15 L501.55,369.81 L502.94,368.48 L504.32,367.14 L505.69,365.81 L507.07,364.47 L508.44,363.14 L509.80,361.81 L511.16,360.47 L512.52,359.14 L513.87,357.80 L515.22,356.47 L516.57,355.13 L517.91,353.80 L519.25,352.46 L520.59,351.13 L521.92,349.80 L523.25,348.46 L524.57,347.13 L525.89,345.79 L527.21,344.46 L528.53,343.12 L529.84,341.79 L531.15,340.46 L532.45,339.12 L533.76,337.79 L535.06,336.45 L536.35,335.12 L537.65,333.78 L538.94,332.45 L540.22,331.12 L541.51,329.78 L542.79,328.45 L544.07,327.11 L545.34,325.78 L546.61,324.44 L547.88,323.11 L549.15,321.77 L550.41,320.44 L551.67,319.11 L552.93,317.77 L554.19,316.44 L555.44,315.10 L556.69,313.77 L557.94,312.43 L559.19,311.10 L560.43,309.77 L561.67,308.43 L562.91,307.10 L564.14,305.76 L565.37,304.43 L566.60,303.09 L567.83,301.76 L569.06,300.42 L570.28,299.09 L571.50,297.76 L572.72,296.42 L573.93,295.09 L575.15,293.75 L576.36,292.42 L577.57,291.08 L578.77,289.75 L579.98,288.42 L581.18,287.08 L582.38,285.75 L583.58,284.41 L584.78,283.08 L585.97,281.74 L587.16,280.41 L588.35,279.08 L589.54,277.74 L590.72,276.41 L591.91,275.07 L593.09,273.74 L594.27,272.40 L595.45,271.07 L596.62,269.73 L597.79,268.40 L598.97,267.07 L600.13,265.73 L601.30,264.40 L602.47,263.06 L603.63,261.73 L604.79,260.39 L605.95,259.06 L607.11,257.73 L608.27,256.39 L609.42,255.06 L610.58,253.72 L611.73,252.39 L612.88,251.05 L614.02,249.72 L615.17,248.38 L616.31,247.05 L617.45,245.72 L618.60,244.38 L619.73,243.05 L620.87,241.71 L622.01,240.38 L623.14,239.04 L624.27,237.71 L625.40,236.38 L626.53,235.04 L627.66,233.71 L628.79,232.37 L629.91,231.04 L631.03,229.70 L632.15,228.37 L633.27,227.04 L634.39,225.70 L635.51,224.37 L636.62,223.03 L637.73,221.70 L638.85,220.36 L639.96,219.03 L641.07,217.69 L642.17,216.36 L643.28,215.03 L644.38,213.69 L645.49,212.36 L646.59,211.02 L647.69,209.69 L648.79,208.35 L649.88,207.02 L650.98,205.69 L652.07,204.35 L653.17,203.02 L654.26,201.68 L655.35,200.35 L656.44,199.01 L657.53,197.68 L658.61,196.34 L659.70,195.01 L660.78,193.68 L661.86,192.34 L662.94,191.01 L664.02,189.67 L665.10,188.34 L666.18,187.00 L667.26,185.67 L668.33,184.34 L669.40,183.00 L670.48,181.67 L671.55,180.33 L672.62,179.00 L673.69,177.66 L674.75,176.33 L675.82,175.00 L676.88,173.66 L677.95,172.33 L679.01,170.99 L680.07,169.66 L681.13,168.32 L682.19,166.99 L683.25,165.65 L684.31,164.32 L685.36,162.99 L686.42,161.65 L687.47,160.32 L688.52,158.98 L689.57,157.65 L690.62,156.31 L691.67,154.98 L692.72,153.65 L693.77,152.31 L694.81,150.98 L695.86,149.64 L696.90,148.31 L697.94,146.97 L698.98,145.64 L700.02,144.31 L701.06,142.97 L702.10,141.64 L703.14,140.30 L704.17,138.97 L705.21,137.63 L706.24,136.30 L707.28,134.96 L708.31,133.63 L709.34,132.30 L710.37,130.96 L711.40,129.63 L712.43,128.29 L713.45,126.96 L714.48,125.62 L715.50,124.29 L716.53,122.96 L717.55,121.62 L718.57,120.29 L719.59,118.95 L720.61,117.62 L721.63,116.28 L722.65,114.95 L723.67,113.61 L724.69,112.28 L725.70,110.95 L726.72,109.61 L727.73,108.28 L728.74,106.94 L729.75,105.61 L730.77,104.27 L731.78,102.94 L732.78,101.61 L733.79,100.27 L734.80,98.94 L735.81,97.60 L736.81,96.27 L737.82,94.93 L738.82,93.60 L739.82,92.27 L740.83,90.93 L741.83,89.60 L742.83,88.26 L743.83,86.93 L744.83,85.59 L745.83,84.26 L746.82,82.92 L747.82,81.59 L748.81,80.26 L749.81,78.92 L750.80,77.59 L751.80,76.25 L752.79,74.92 L753.78,73.58 L754.77,72.25 L755.76,70.92 L756.75,69.58 L757.74,68.25 L758.73,66.91 L759.71,65.58 L760.70,64.24 L761.68,62.91 L762.67,61.57 L763.65,60.24 L764.63,58.91 L765.62,57.57 L766.50,56.37" fill="none" stroke="#22409a" stroke-width="3" stroke-dasharray="10 16.5" stroke-dashoffset="1" stroke-linejoin="round"/><path d="M125.50,535.50 L194.95,535.50 L201.19,535.43 L203.74,535.36 L205.68,535.29 L207.31,535.22 L208.74,535.15 L210.02,535.08 L211.20,535.01 L212.29,534.94 L213.31,534.87 L214.28,534.80 L215.19,534.73 L216.06,534.66 L216.89,534.59 L217.69,534.52 L218.46,534.45 L219.21,534.38 L219.92,534.31 L220.62,534.24 L221.29,534.17 L221.95,534.10 L222.59,534.03 L223.21,533.96 L223.82,533.89 L224.41,533.82 L224.99,533.75 L225.56,533.68 L226.11,533.61 L226.66,533.54 L227.19,533.47 L227.71,533.40 L228.23,533.33 L228.73,533.26 L229.23,533.19 L229.72,533.12 L230.20,533.05 L230.67,532.98 L231.14,532.91 L231.60,532.84 L232.05,532.77 L232.50,532.70 L232.94,532.63 L233.37,532.56 L233.80,532.49 L234.22,532.42 L234.64,532.35 L235.05,532.28 L235.46,532.21 L235.86,532.14 L236.26,532.07 L236.65,532.00 L237.04,531.93 L237.43,531.86 L237.81,531.79 L238.19,531.72 L238.56,531.65 L238.93,531.58 L239.30,531.51 L239.66,531.44 L240.02,531.37 L240.54,531.27 L246.75,529.93 L252.17,528.60 L257.04,527.27 L261.48,525.93 L265.60,524.60 L269.45,523.26 L273.07,521.93 L276.51,520.59 L279.79,519.26 L282.93,517.93 L285.95,516.59 L288.86,515.26 L291.67,513.92 L294.40,512.59 L297.04,511.25 L299.62,509.92 L302.13,508.58 L304.58,507.25 L306.98,505.92 L309.33,504.58 L311.62,503.25 L313.88,501.91 L316.09,500.58 L318.27,499.24 L320.40,497.91 L322.51,496.58 L324.58,495.24 L326.62,493.91 L328.63,492.57 L330.62,491.24 L332.58,489.90 L334.51,488.57 L336.42,487.23 L338.31,485.90 L340.18,484.57 L342.02,483.23 L343.85,481.90 L345.66,480.56 L347.45,479.23 L349.22,477.89 L350.97,476.56 L352.71,475.23 L354.44,473.89 L356.14,472.56 L357.84,471.22 L359.52,469.89 L361.18,468.55 L362.83,467.22 L364.47,465.89 L366.10,464.55 L367.72,463.22 L369.32,461.88 L370.91,460.55 L372.49,459.21 L374.06,457.88 L375.62,456.54 L377.17,455.21 L378.71,453.88 L380.24,452.54 L381.77,451.21 L383.28,449.87 L384.78,448.54 L386.27,447.20 L387.76,445.87 L389.24,444.54 L390.71,443.20 L392.17,441.87 L393.62,440.53 L395.06,439.20 L396.50,437.86 L397.93,436.53 L399.36,435.20 L400.77,433.86 L402.18,432.53 L403.59,431.19 L404.98,429.86 L406.37,428.52 L407.76,427.19 L409.13,425.85 L410.50,424.52 L411.87,423.19 L413.23,421.85 L414.58,420.52 L415.93,419.18 L417.27,417.85 L418.61,416.51 L419.94,415.18 L421.26,413.85 L422.58,412.51 L423.90,411.18 L425.21,409.84 L426.51,408.51 L427.81,407.17 L429.11,405.84 L430.40,404.50 L431.69,403.17 L432.97,401.84 L434.24,400.50 L435.52,399.17 L436.78,397.83 L438.05,396.50 L439.31,395.16 L440.56,393.83 L441.81,392.50 L443.06,391.16 L444.30,389.83 L445.54,388.49 L446.77,387.16 L448.00,385.82 L449.23,384.49 L450.45,383.16 L451.67,381.82 L452.89,380.49 L454.10,379.15 L455.31,377.82 L456.51,376.48 L457.71,375.15 L458.91,373.81 L460.10,372.48 L461.29,371.15 L462.48,369.81 L463.66,368.48 L464.84,367.14 L466.02,365.81 L467.19,364.47 L468.36,363.14 L469.53,361.81 L470.70,360.47 L471.86,359.14 L473.02,357.80 L474.17,356.47 L475.32,355.13 L476.47,353.80 L477.62,352.46 L478.76,351.13 L479.90,349.80 L481.04,348.46 L482.17,347.13 L483.31,345.79 L484.43,344.46 L485.56,343.12 L486.68,341.79 L487.81,340.46 L488.92,339.12 L490.04,337.79 L491.15,336.45 L492.26,335.12 L493.37,333.78 L494.48,332.45 L495.58,331.12 L496.68,329.78 L497.78,328.45 L498.88,327.11 L499.97,325.78 L501.06,324.44 L502.15,323.11 L503.23,321.77 L504.32,320.44 L505.40,319.11 L506.48,317.77 L507.56,316.44 L508.63,315.10 L509.70,313.77 L510.77,312.43 L511.84,311.10 L512.91,309.77 L513.97,308.43 L515.03,307.10 L516.09,305.76 L517.15,304.43 L518.20,303.09 L519.26,301.76 L520.31,300.42 L521.36,299.09 L522.40,297.76 L523.45,296.42 L524.49,295.09 L525.53,293.75 L526.57,292.42 L527.61,291.08 L528.65,289.75 L529.68,288.42 L530.71,287.08 L531.74,285.75 L532.77,284.41 L533.79,283.08 L534.82,281.74 L535.84,280.41 L536.86,279.08 L537.88,277.74 L538.89,276.41 L539.91,275.07 L540.92,273.74 L541.93,272.40 L542.94,271.07 L543.95,269.73 L544.96,268.40 L545.96,267.07 L546.97,265.73 L547.97,264.40 L548.97,263.06 L549.96,261.73 L550.96,260.39 L551.95,259.06 L552.95,257.73 L553.94,256.39 L554.93,255.06 L555.92,253.72 L556.90,252.39 L557.89,251.05 L558.87,249.72 L559.85,248.38 L560.83,247.05 L561.81,245.72 L562.79,244.38 L563.77,243.05 L564.74,241.71 L565.71,240.38 L566.68,239.04 L567.65,237.71 L568.62,236.38 L569.59,235.04 L570.55,233.71 L571.52,232.37 L572.48,231.04 L573.44,229.70 L574.40,228.37 L575.36,227.04 L576.32,225.70 L577.27,224.37 L578.23,223.03 L579.18,221.70 L580.13,220.36 L581.08,219.03 L582.03,217.69 L582.98,216.36 L583.92,215.03 L584.87,213.69 L585.81,212.36 L586.75,211.02 L587.69,209.69 L588.63,208.35 L589.57,207.02 L590.51,205.69 L591.44,204.35 L592.38,203.02 L593.31,201.68 L594.24,200.35 L595.17,199.01 L596.10,197.68 L597.03,196.34 L597.96,195.01 L598.88,193.68 L599.81,192.34 L600.73,191.01 L601.65,189.67 L602.57,188.34 L603.49,187.00 L604.41,185.67 L605.33,184.34 L606.24,183.00 L607.16,181.67 L608.07,180.33 L608.99,179.00 L609.90,177.66 L610.81,176.33 L611.72,175.00 L612.63,173.66 L613.53,172.33 L614.44,170.99 L615.34,169.66 L616.25,168.32 L617.15,166.99 L618.05,165.65 L618.95,164.32 L619.85,162.99 L620.75,161.65 L621.65,160.32 L622.54,158.98 L623.44,157.65 L624.33,156.31 L625.22,154.98 L626.12,153.65 L627.01,152.31 L627.90,150.98 L628.79,149.64 L629.67,148.31 L630.56,146.97 L631.45,145.64 L632.33,144.31 L633.22,142.97 L634.10,141.64 L634.98,140.30 L635.86,138.97 L636.74,137.63 L637.62,136.30 L638.50,134.96 L639.37,133.63 L640.25,132.30 L641.12,130.96 L642.00,129.63 L642.87,128.29 L643.74,126.96 L644.61,125.62 L645.48,124.29 L646.35,122.96 L647.22,121.62 L648.09,120.29 L648.96,118.95 L649.82,117.62 L650.69,116.28 L651.55,114.95 L652.41,113.61 L653.27,112.28 L654.14,110.95 L655.00,109.61 L655.85,108.28 L656.71,106.94 L657.57,105.61 L658.43,104.27 L659.28,102.94 L660.14,101.61 L660.99,100.27 L661.84,98.94 L662.70,97.60 L663.55,96.27 L664.40,94.93 L665.25,93.60 L666.10,92.27 L666.94,90.93 L667.79,89.60 L668.64,88.26 L669.48,86.93 L670.33,85.59 L671.17,84.26 L672.01,82.92 L672.86,81.59 L673.70,80.26 L674.54,78.92 L675.38,77.59 L676.22,76.25 L677.05,74.92 L677.89,73.58 L678.73,72.25 L679.56,70.92 L680.40,69.58 L681.23,68.25 L682.07,66.91 L682.90,65.58 L683.73,64.24 L684.56,62.91 L685.39,61.57 L686.22,60.24 L687.05,58.91 L687.88,57.57 L688.70,56.24 L689.53,54.90 L690.36,53.57 L691.18,52.23 L692.00,50.90 L692.83,49.57 L693.65,48.23 L694.47,46.90 L695.29,45.56 L696.11,44.23 L696.93,42.89 L697.75,41.56 L698.57,40.23 L699.39,38.89 L700.20,37.56 L701.02,36.22 L701.84,34.89 L702.65,33.55 L703.46,32.22 L704.28,30.88 L705.09,29.55 L705.90,28.22 L706.71,26.88 L707.52,25.55 L708.33,24.21 L709.14,22.88 L709.95,21.54 L710.76,20.21 L711.19,19.50" fill="none" stroke="#e4000b" stroke-width="3" stroke-dasharray="10 16.5" stroke-dashoffset="1" stroke-linejoin="round"/>
<path d="M398.79,215.82 L397.85,215.22 L396.94,214.63 L396.05,214.05 L395.18,213.46 L394.35,212.88 L393.54,212.29 L392.75,211.72 L392.00,211.14 L391.27,210.57 L390.57,210.01 L389.90,209.45 L389.26,208.89 L388.65,208.34 L388.07,207.80 L387.52,207.26 L387.00,206.73 L386.51,206.20 L386.06,205.69 L385.63,205.18 L385.24,204.67 L384.88,204.18 L384.56,203.70 L384.27,203.22 L384.01,202.75 L383.78,202.30 L383.59,201.85 L383.43,201.41 L383.31,200.99 L383.21,200.57 L383.16,200.16 L383.13,199.77 L383.14,199.39 L383.19,199.02 L383.27,198.66 L383.38,198.31 L383.53,197.98 L383.71,197.66 L383.92,197.35 L384.17,197.06 L384.45,196.77 L384.76,196.50 L385.11,196.25 L385.49,196.01 L385.90,195.78 L386.34,195.57 L386.82,195.37 L387.32,195.19 L387.86,195.02 L388.43,194.86 L389.03,194.72 L389.66,194.60 L390.32,194.49 L391.01,194.39 L391.72,194.31 L392.47,194.24 L393.24,194.19 L394.04,194.16 L394.87,194.14 L395.73,194.13 L396.61,194.14 L397.51,194.17 L398.44,194.21 L399.39,194.27 L400.37,194.34 L401.37,194.42 L402.39,194.52 L403.43,194.64 L404.49,194.77 L405.58,194.92 L406.68,195.08 L407.80,195.25 L408.94,195.44 L410.09,195.65 L411.26,195.86 L412.45,196.10 L413.65,196.34 L414.87,196.60 L416.10,196.87 L417.34,197.16 L418.59,197.46 L419.86,197.77 L421.13,198.10 L422.41,198.44 L423.70,198.79 L425.00,199.15 L426.30,199.53 L427.61,199.91 L428.93,200.31 L430.24,200.72 L431.57,201.14 L432.89,201.57 L434.21,202.01 L435.54,202.46 L436.86,202.92 L438.19,203.39 L439.51,203.87 L440.83,204.36 L442.14,204.86 L443.45,205.36 L444.75,205.87 L446.05,206.39 L447.34,206.92 L448.62,207.45 L449.90,208.00 L451.16,208.54 L452.41,209.09 L453.65,209.65 L454.88,210.21 L456.09,210.78 L457.30,211.35 L458.48,211.93 L459.65,212.51 L460.81,213.09 L461.94,213.67 L463.06,214.26 L464.16,214.85 L465.25,215.44 L466.31,216.03 L467.35,216.63 L468.37,217.22 L469.37,217.81 L470.34,218.40 L471.29,219.00 L472.22,219.59 L473.12,220.18 L474.00,220.76 L474.86,221.35 L475.68,221.93 L476.48,222.51 L477.25,223.09 L478.00,223.66 L478.71,224.23 L479.40,224.79 L480.06,225.35 L480.68,225.90 L481.28,226.45 L481.85,226.99 L482.39,227.53 L482.89,228.06 L483.36,228.58 L483.81,229.09 L484.22,229.60 L484.59,230.10 L484.94,230.59 L485.25,231.07 L485.53,231.54 L485.77,232.00 L485.98,232.46 L486.16,232.90 L486.31,233.33 L486.42,233.75 L486.49,234.16 L486.54,234.57 L486.55,234.95 L486.52,235.33 L486.46,235.70 L486.37,236.05 L486.24,236.39 L486.08,236.72 L485.89,237.04 L485.66,237.34 L485.40,237.63 L485.10,237.90 L484.78,238.17 L484.42,238.41 L484.02,238.65 L483.60,238.87 L483.14,239.08 L482.65,239.27 L482.13,239.45 L481.58,239.61 L481.00,239.76 L480.39,239.89 L479.74,240.01 L479.07,240.12 L478.37,240.21 L477.64,240.28 L476.88,240.34 L476.10,240.38 L475.29,240.41 L474.45,240.43 L473.58,240.43 L472.69,240.41 L471.78,240.38 L470.84,240.33 L469.88,240.27 L468.89,240.19 L467.88,240.10 L466.85,239.99 L465.80,239.87 L464.73,239.73 L463.64,239.58 L462.53,239.41 L461.40,239.23 L460.25,239.03 L459.09,238.82 L457.91,238.60 L456.72,238.36 L455.51,238.11" fill="none" stroke="#000" stroke-width="3.2" stroke-linecap="round"/><path d="M526.53,282.13 L525.49,281.37 L524.48,280.61 L523.50,279.86 L522.55,279.11 L521.64,278.37 L520.76,277.63 L519.92,276.90 L519.12,276.17 L518.35,275.45 L517.62,274.74 L516.92,274.04 L516.26,273.34 L515.65,272.65 L515.07,271.97 L514.52,271.30 L514.02,270.64 L513.56,269.99 L513.14,269.35 L512.76,268.72 L512.41,268.10 L512.11,267.50 L511.85,266.90 L511.63,266.32 L511.45,265.75 L511.32,265.20 L511.22,264.65 L511.16,264.12 L511.15,263.61 L511.18,263.11 L511.24,262.62 L511.35,262.15 L511.50,261.70 L511.70,261.25 L511.93,260.83 L512.20,260.42 L512.52,260.03 L512.87,259.65 L513.26,259.29 L513.70,258.95 L514.17,258.63 L514.69,258.32 L515.24,258.03 L515.83,257.75 L516.46,257.50 L517.13,257.26 L517.84,257.04 L518.58,256.84 L519.36,256.66 L520.18,256.50 L521.03,256.35 L521.92,256.23 L522.84,256.12 L523.79,256.03 L524.78,255.96 L525.81,255.91 L526.86,255.88 L527.95,255.87 L529.07,255.87 L530.22,255.90 L531.39,255.94 L532.60,256.01 L533.84,256.09 L535.10,256.19 L536.39,256.31 L537.71,256.45 L539.05,256.60 L540.42,256.78 L541.81,256.97 L543.22,257.19 L544.65,257.42 L546.11,257.67 L547.58,257.93 L549.08,258.22 L550.59,258.52 L552.12,258.84 L553.67,259.18 L555.23,259.53 L556.81,259.90 L558.40,260.29 L560.00,260.69 L561.62,261.11 L563.24,261.54 L564.88,261.99 L566.52,262.46 L568.18,262.94 L569.83,263.44 L571.50,263.95 L573.17,264.47 L574.84,265.01 L576.52,265.56 L578.20,266.13 L579.88,266.70 L581.56,267.29 L583.23,267.90 L584.91,268.51 L586.58,269.14 L588.25,269.77 L589.91,270.42 L591.57,271.08 L593.22,271.74 L594.86,272.42 L596.49,273.10 L598.11,273.80 L599.72,274.50 L601.32,275.21 L602.90,275.93 L604.47,276.65 L606.03,277.38 L607.57,278.12 L609.09,278.86 L610.59,279.61 L612.08,280.36 L613.55,281.11 L614.99,281.87 L616.41,282.64 L617.82,283.40 L619.19,284.17 L620.55,284.94 L621.88,285.71 L623.18,286.49 L624.46,287.26 L625.71,288.03 L626.93,288.80 L628.13,289.58 L629.29,290.35 L630.43,291.11 L631.53,291.88 L632.60,292.64 L633.64,293.40 L634.65,294.16 L635.62,294.91 L636.56,295.66 L637.47,296.40 L638.34,297.14 L639.17,297.87 L639.97,298.60 L640.74,299.32 L641.46,300.03 L642.15,300.73 L642.80,301.43 L643.41,302.11 L643.98,302.79 L644.52,303.46 L645.01,304.12 L645.47,304.77 L645.88,305.40 L646.26,306.03 L646.60,306.65 L646.89,307.25 L647.14,307.84 L647.36,308.42 L647.53,308.99 L647.66,309.54 L647.75,310.09 L647.80,310.61 L647.81,311.12 L647.77,311.62 L647.70,312.11 L647.58,312.58 L647.42,313.03 L647.22,313.47 L646.99,313.89 L646.71,314.29 L646.38,314.68 L646.02,315.06 L645.62,315.41 L645.18,315.75 L644.70,316.08 L644.18,316.38 L643.62,316.67 L643.02,316.94 L642.38,317.19 L641.71,317.42 L641.00,317.64 L640.25,317.84 L639.46,318.02 L638.64,318.18 L637.78,318.32 L636.89,318.44 L635.96,318.55 L635.00,318.63 L634.00,318.70 L632.97,318.74 L631.91,318.77 L630.82,318.78 L629.70,318.77 L628.54,318.74 L627.36,318.70 L626.15,318.63 L624.91,318.55 L623.64,318.44 L622.35,318.32 L621.02,318.18 L619.68,318.02 L618.31,317.84 L616.92,317.64 L615.50,317.42 L614.06,317.19 L612.60,316.94" fill="none" stroke="#000" stroke-width="3.2" stroke-linecap="round"/>
<path d="M141,47.2 H212.7" stroke="#000" stroke-width="3"/><path d="M141,87.0 H212.7" stroke="#22409a" stroke-width="3"/><path d="M141,127.0 H212.7" stroke="#e4000b" stroke-width="3"/>
<path d="M241.3,194.45 H265.8 M241.3,201.73 H265.8 M629.3,472.49 H653.6 M629.3,479.77 H653.6" stroke="#000" stroke-width="1.45" fill="none"/><path d="M243.2,84.65 H251.9" stroke="#000" stroke-width="1.9"/>
<g font-family="&quot;Liberation Serif&quot;, serif" font-size="100" style="font-kerning:none" opacity="0.999">
<text transform="matrix(0.38012,0,0,0.33936,62.230,29.419)" font-style="normal" fill="#000" stroke="#000" stroke-width="0.7">250</text>
<text transform="matrix(0.38012,0,0,0.33936,62.230,132.619)" font-style="normal" fill="#000" stroke="#000" stroke-width="0.7">200</text>
<text transform="matrix(0.39228,0,0,0.33936,60.452,235.819)" font-style="normal" fill="#000" stroke="#000" stroke-width="0.7">150</text>
<text transform="matrix(0.39228,0,0,0.33936,60.452,339.019)" font-style="normal" fill="#000" stroke="#000" stroke-width="0.7">100</text>
<text transform="matrix(0.37951,0,0,0.33936,81.295,442.219)" font-style="normal" fill="#000" stroke="#000" stroke-width="0.7">50</text>
<text transform="matrix(0.37515,0,0,0.33936,100.471,545.419)" font-style="normal" fill="#000" stroke="#000" stroke-width="0.7">0</text>
<text transform="matrix(0.38695,0,0,0.33788,113.626,570.270)" font-style="normal" fill="#000" stroke="#000" stroke-width="0.7">0</text>
<text transform="matrix(0.40619,0,0,0.34537,290.850,570.600)" font-style="normal" fill="#000" stroke="#000" stroke-width="0.7">1</text>
<text transform="matrix(0.40661,0,0,0.34435,469.903,570.600)" font-style="normal" fill="#000" stroke="#000" stroke-width="0.7">2</text>
<text transform="matrix(0.38733,0,0,0.33935,648.257,570.269)" font-style="normal" fill="#000" stroke="#000" stroke-width="0.7">3</text>
<text transform="matrix(0.40645,0,0,0.36167,221.333,58.147)" font-style="normal" fill="#000">C</text>
<text transform="matrix(0.40492,0,0,0.36167,247.191,58.147)" font-style="normal" fill="#000">S</text>
<text transform="matrix(0.41307,0,0,0.34057,270.454,57.600)" font-style="normal" fill="#000">T</text>
<text transform="matrix(0.37838,0,0,0.33905,297.110,57.501)" font-style="normal" fill="#000">B</text>
<text transform="matrix(0.41134,0,0,0.34057,323.857,57.600)" font-style="normal" fill="#000">T</text>
<text transform="matrix(0.41814,0,0,0.31429,221.626,93.309)" font-style="normal" fill="#000">p</text>
<text transform="matrix(0.41091,0,0,0.32683,253.277,93.900)" font-style="normal" fill="#000">r</text>
<text transform="matrix(0.31540,0,0,0.33982,268.738,93.900)" font-style="normal" fill="#000">i</text>
<text transform="matrix(0.39401,0,0,0.31834,279.296,93.900)" font-style="normal" fill="#000">n</text>
<text transform="matrix(0.38357,0,0,0.29904,299.252,93.846)" font-style="normal" fill="#000">g</text>
<text transform="matrix(0.39737,0,0,0.34057,221.264,137.100)" font-style="normal" fill="#000">I</text>
<text transform="matrix(0.38467,0,0,0.35126,235.122,137.257)" font-style="normal" fill="#000">G</text>
<text transform="matrix(0.41481,0,0,0.34057,265.151,137.100)" font-style="normal" fill="#000">T</text>
<text transform="matrix(0.46016,0,0,0.34439,199.789,206.700)" font-style="italic" fill="#000">T</text>
<text transform="matrix(0.33076,0,0,0.23200,224.053,211.161)" font-style="normal" fill="#000">j</text>
<text transform="matrix(0.38046,0,0,0.33936,274.179,206.869)" font-style="normal" fill="#000" stroke="#000" stroke-width="0.7">300</text>
<text transform="matrix(0.38208,0,0,0.34973,344.699,206.800)" font-style="normal" fill="#000">K</text>
<text transform="matrix(0.37047,0,0,0.34084,660.676,300.867)" font-style="normal" fill="#000" stroke="#000" stroke-width="0.7">425</text>
<text transform="matrix(0.36744,0,0,0.34362,730.741,300.800)" font-style="normal" fill="#000">K</text>
<text transform="matrix(0.38791,0,0,0.34780,561.873,484.474)" font-style="italic" fill="#000">V</text>
<text transform="matrix(0.28980,0,0,0.23516,583.811,489.570)" font-style="normal" fill="#000">CE</text>
<text transform="matrix(0.37684,0,0,0.35228,662.388,484.656)" font-style="normal" fill="#000" stroke="#000" stroke-width="0.7">15</text>
<text transform="matrix(0.38159,0,0,0.36273,713.471,484.951)" font-style="normal" fill="#000">V</text>
<text transform="matrix(0.39708,0,0,0.35377,373.825,615.865)" font-style="italic" fill="#000">V</text>
<text transform="matrix(0.29317,0,0,0.25153,395.898,620.754)" font-style="normal" fill="#000">CE</text>
<text transform="matrix(0.35431,0,0,0.36504,447.543,615.929)" font-style="normal" fill="#000">(</text>
<text transform="matrix(0.38159,0,0,0.34929,460.671,615.871)" font-style="normal" fill="#000">V</text>
<text transform="matrix(0.35431,0,0,0.36504,489.858,615.929)" font-style="normal" fill="#000">)</text>
<text transform="matrix(0,-0.42290,0.35890,0,38.400,366.135)" font-style="italic" fill="#000">I</text>
<text transform="matrix(0,-0.29257,0.25302,0,43.753,350.800)" font-style="normal" fill="#000">C</text>
<text transform="matrix(0,-0.37378,0.37166,0,38.788,317.043)" font-style="normal" fill="#000">(</text>
<text transform="matrix(0,-0.35457,0.36204,0,38.100,302.946)" font-style="normal" fill="#000">A</text>
<text transform="matrix(0,-0.57589,0.48285,0,45.628,274.000)" font-style="normal" fill="#000">/</text>
<text transform="matrix(0,-0.40583,0.33059,0,37.277,257.646)" font-style="normal" fill="#000">cm</text>
<text transform="matrix(0,-0.27689,0.24618,0,28.900,209.517)" font-style="normal" fill="#000">2</text>
<text transform="matrix(0,-0.36989,0.37166,0,38.788,195.192)" font-style="normal" fill="#000">)</text>
</g>
</svg></body></html>
